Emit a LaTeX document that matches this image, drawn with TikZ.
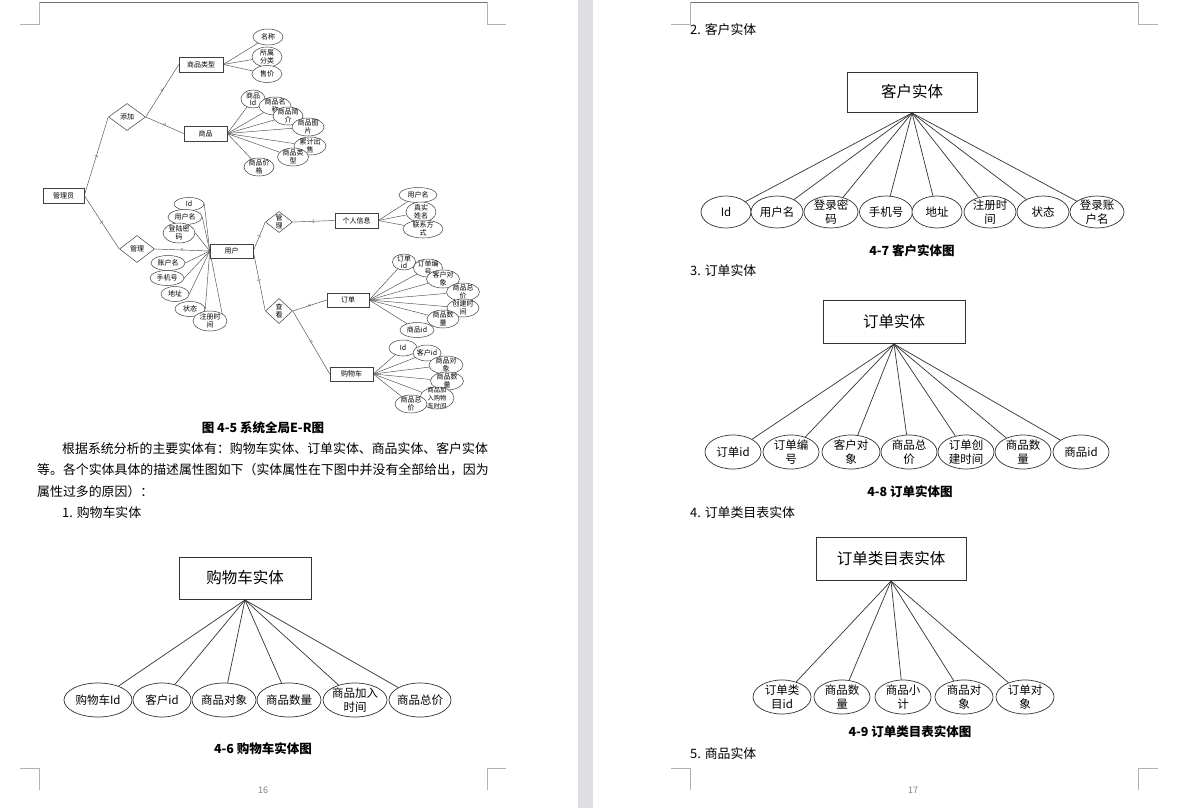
\documentclass[tikz,border=0pt]{standalone}
\usepackage{fontspec}
\setmainfont{Noto Sans CJK SC}
\usetikzlibrary{shapes.geometric}
\definecolor{gapgray}{RGB}{222,223,226}
\newcommand{\erfont}{\fontsize{7}{7.6}\selectfont}
\newcommand{\ersmall}{\fontsize{6.3}{6.7}\selectfont}
\newcommand{\cardfont}{\fontsize{5}{5}\selectfont}
\newcommand{\entfont}{\fontsize{15.5}{17}\selectfont}
\newcommand{\attrfont}{\fontsize{11.5}{13.5}\selectfont}
\newcommand{\bodyfont}{\fontsize{12.9}{15}\selectfont}
\newcommand{\capfont}{\fontsize{12.5}{14}\selectfont\bfseries}
\newcommand{\pnfont}{\fontsize{9}{10}\selectfont}
% ellipse / diamond outline with its text set on top
\newcommand{\erattr}[5]{%
  \node[attr,minimum width=#3,minimum height=#4] (#1) at (#2) {};
  \node[attrtext] (#1-t) at (#1) {#5};}
\newcommand{\errel}[5]{%
  \node[rel,minimum width=#3,minimum height=#4] (#1) at (#2) {};
  \node[reltext] (#1-t) at (#1) {#5};}
\pgfdeclarelayer{paper}
\pgfdeclarelayer{bg}
\pgfsetlayers{paper,bg,main}

\begin{document}
\begin{tikzpicture}[x=1pt,y=-1pt,
    ent/.style={rectangle,draw=black!75,fill=white,line width=0.5pt,inner sep=0pt,font=\erfont},
    attr/.style={ellipse,draw=black!75,fill=white,line width=0.5pt,inner sep=0pt},
    attrtext/.style={font=\erfont,align=center,inner sep=0pt},
    rel/.style={diamond,draw=black!75,fill=white,line width=0.5pt,inner sep=0pt},
    reltext/.style={font=\erfont,align=center,inner sep=0pt},
    link/.style={draw=black!70,line width=0.45pt},
    card/.style={sloped,midway,font=\cardfont,text=black!60,inner sep=0.5pt},
    bigent/.style={rectangle,draw=black!80,fill=white,line width=0.8pt,inner sep=0pt,font=\entfont},
    biglink/.style={draw=black!80,line width=0.7pt},
    body/.style={anchor=west,font=\bodyfont,inner sep=0pt},
    caption/.style={font=\capfont,inner sep=0pt},
    cropline/.style={draw=black!30,line width=0.7pt},
    pagenum/.style={font=\pnfont,text=black!50,inner sep=0pt}
  ]
  \useasboundingbox (0,0) rectangle (1183,808);
  \begin{pgfonlayer}{paper}
    \fill[white] (0,0) rectangle (1183,808);
    \fill[gapgray] (578,0) rectangle (593,808);
  \end{pgfonlayer}

  % page corners
  \draw[black!55,line width=0.7pt] (39,2) -- (487,2);
  \draw[black!55,line width=0.7pt] (690,2) -- (1138,2);
  \draw[cropline] (20,24) -- (39,24) -- (39,2);
  \draw[cropline] (506,24) -- (487,24) -- (487,2);
  \draw[cropline] (20,768) -- (39,768) -- (39,790);
  \draw[cropline] (506,768) -- (487,768) -- (487,790);
  \draw[cropline] (671,24) -- (690,24) -- (690,2);
  \draw[cropline] (1158,24) -- (1138,24) -- (1138,2);
  \draw[cropline] (671,768) -- (690,768) -- (690,790);
  \draw[cropline] (1158,768) -- (1138,768) -- (1138,790);
  \node[pagenum] (pn16) at (263,790) {16};
  \node[pagenum] (pn17) at (913,790) {17};

  % ---- global E-R diagram ----
  \node[ent,minimum width=44,minimum height=15] (ptype) at (201,64.5) {商品类型};
  \node[ent,minimum width=43,minimum height=15] (prod) at (205.5,133.5) {商品};
  \node[ent,minimum width=41,minimum height=15] (admin) at (63.5,195.5) {管理员};
  \node[ent,minimum width=43,minimum height=14] (user) at (231.5,251) {用户};
  \node[ent,minimum width=43,minimum height=15] (info) at (356.5,220.5) {个人信息};
  \node[ent,minimum width=42,minimum height=14] (order) at (348,300) {订单};
  \node[ent,minimum width=43,minimum height=14] (cart) at (351.5,374) {购物车};

  \errel{add}{127,117}{37}{27}{添加}
  \errel{manage}{137,249}{35}{27}{管理}
  \errel{manage2}{279,222}{27}{21}{管\\理}
  \errel{view}{279,311}{27}{25}{查\\看}

  \erattr{a1}{268,37}{30}{16}{名称}
  \erattr{a2}{267,57}{30}{20}{所属\\分类}
  \erattr{a3}{267,74}{30}{17}{售价}

  \erattr{p1}{253,99}{24}{18}{商品\\Id}
  \erattr{p2}{275,106}{32}{18}{商品名\\称}
  \erattr{p3}{288,116}{30}{18}{商品简\\介}
  \erattr{p4}{308,127}{32}{18}{商品图\\片}
  \erattr{p5}{310,146}{32}{18}{累计出\\售}
  \erattr{p6}{293,157}{31}{18}{商品类\\型}
  \erattr{p7}{259,167}{30}{18}{商品价\\格}

  \erattr{u1}{189,204}{30}{13}{Id}
  \erattr{u2}{185,217}{34}{15}{用户名}
  \erattr{u3}{179,233}{32}{20}{登陆密\\码}
  \erattr{u4}{168,263}{34}{15}{账户名}
  \erattr{u5}{167,278}{34}{15}{手机号}
  \erattr{u6}{175,294}{28}{15}{地址}
  \erattr{u7}{190,309}{30}{15}{状态}
  \erattr{u8}{210,321}{34}{20}{注册时\\间}

  \erattr{i1}{418,195}{38}{15}{用户名}
  \erattr{i2}{421,212}{30}{20}{真实\\姓名}
  \erattr{i3}{423,229}{40}{18}{联系方\\式}

  \erattr{o1}{404,262}{23}{16}{订单\\id}
  \erattr{o2}{428,268}{29}{18}{订单编\\号}
  \erattr{o3}{443,279}{33}{18}{客户对\\象}
  \erattr{o4}{463,292}{33}{18}{商品总\\价}
  \erattr{o5}{463,308}{32}{18}{创建时\\间}
  \erattr{o6}{443,319}{32}{18}{商品数\\量}
  \erattr{o7}{417,330}{34}{15}{商品id}

  \erattr{c1}{403,348}{28}{16}{Id}
  \erattr{c2}{427,353}{28}{16}{客户id}
  \erattr{c3}{446,365}{34}{18}{商品对\\象}
  \erattr{c4}{447,381}{33}{18}{商品数\\量}
  \erattr{c5}{437,398}{34}{22}{\ersmall 商品加\\\ersmall 入购物\\\ersmall 车时间}
  \erattr{c6}{411,404}{32}{18}{商品总\\价}

  \begin{pgfonlayer}{bg}
    \draw[link] (add.west) -- node[card] {1} (admin.east);
    \draw[link] (add.east) -- node[card] {n} (ptype.west);
    \draw[link] (add.east) -- node[card] {n} (prod.west);
    \draw[link] (admin.east) -- node[card] {1} (manage.west);
    \draw[link] (manage.east) -- node[card] {n} (user.west);
    \draw[link] (user.east) -- node[card] {1} (manage2.west);
    \draw[link] (manage2.east) -- node[card] {1} (info.west);
    \draw[link] (user.east) -- node[card] {1} (view.west);
    \draw[link] (view.east) -- node[card] {n} (order.west);
    \draw[link] (view.east) -- node[card] {n} (cart.west);
    \foreach \a in {a1,a2,a3} \draw[link] (ptype.east) -- (\a);
    \foreach \a in {p1,p2,p3,p4,p5,p6,p7} \draw[link] (prod.east) -- (\a);
    \foreach \a in {u1,u2,u3,u4,u5,u6,u7} \draw[link] (\a.east) -- (user.west);
    \draw[link] (u8.north east) -- (user.west);
    \foreach \a in {i1,i2,i3} \draw[link] (info.east) -- (\a);
    \foreach \a in {o1,o2,o3,o4,o5,o6,o7} \draw[link] (order.east) -- (\a);
    \foreach \a in {c1,c2,c3,c4,c5,c6} \draw[link] (cart.east) -- (\a);
  \end{pgfonlayer}

  % ---- left page text ----
  \node[caption] (cap45) at (263,428) {图 4-5 系统全局E-R图};
  \node[body] (line1) at (62,449) {根据系统分析的主要实体有：购物车实体、订单实体、商品实体、客户实体};
  \node[body] (line2) at (37,470) {等。各个实体具体的描述属性图如下（实体属性在下图中并没有全部给出，因为};
  \node[body] (line3) at (37,492) {属性过多的原因）：};
  \node[body] (sec1) at (62,513) {1. 购物车实体};

  \begin{scope}[attr/.append style={draw=black!80,line width=0.7pt},
      attrtext/.append style={font=\attrfont}]
    % cart entity
    \node[bigent,minimum width=132,minimum height=42] (cartE) at (245,578) {购物车实体};
    \coordinate (cartJ) at (245,600);
    \erattr{ce1}{98,700}{68}{34}{购物车Id}
    \erattr{ce2}{162,700}{58}{34}{客户id}
    \erattr{ce3}{224,700}{64}{34}{商品对象}
    \erattr{ce4}{289,700}{64}{34}{商品数量}
    \erattr{ce5}{355,700}{64}{34}{商品加入\\时间}
    \erattr{ce6}{420,700}{62}{34}{商品总价}
    \foreach \a in {ce1,ce2,ce3,ce4,ce5,ce6} \draw[biglink] (cartJ) -- (\a);
    \node[caption] (cap46) at (263,749) {4-6 购物车实体图};

    % customer entity
    \node[body] (sec2) at (690,30) {2. 客户实体};
    \node[bigent,minimum width=130,minimum height=40] (custE) at (912,92) {客户实体};
    \coordinate (custJ) at (912,113);
    \erattr{ke1}{726,212}{50}{32}{Id}
    \erattr{ke2}{777,212}{52}{32}{用户名}
    \erattr{ke3}{831,212}{54}{32}{登录密\\码}
    \erattr{ke4}{886,212}{53}{32}{手机号}
    \erattr{ke5}{937,212}{50}{32}{地址}
    \erattr{ke6}{990,212}{52}{32}{注册时\\间}
    \erattr{ke7}{1043,212}{52}{32}{状态}
    \erattr{ke8}{1097,212}{54}{32}{登录账\\户名}
    \foreach \a in {ke1,ke2,ke3,ke4,ke5,ke6,ke7,ke8} \draw[biglink] (custJ) -- (\a);
    \node[caption] (cap47) at (912,251) {4-7 客户实体图};

    % order entity
    \node[body] (sec3) at (690,271) {3. 订单实体};
    \node[bigent,minimum width=142,minimum height=43] (ordE) at (894,321.5) {订单实体};
    \coordinate (ordJ) at (894,344);
    \erattr{oe1}{733,452}{56}{34}{订单id}
    \erattr{oe2}{791,452}{56}{34}{订单编\\号}
    \erattr{oe3}{851,452}{58}{34}{客户对\\象}
    \erattr{oe4}{909,452}{56}{34}{商品总\\价}
    \erattr{oe5}{966,452}{56}{34}{订单创\\建时间}
    \erattr{oe6}{1023,452}{56}{34}{商品数\\量}
    \erattr{oe7}{1081,452}{56}{34}{商品id}
    \foreach \a in {oe1,oe2,oe3,oe4,oe5,oe6,oe7} \draw[biglink] (ordJ) -- (\a);
    \node[caption] (cap48) at (910,492) {4-8 订单实体图};

    % order item entity
    \node[body] (sec4) at (690,513) {4. 订单类目表实体};
    \node[bigent,minimum width=150,minimum height=43] (catE) at (891,558.5) {订单类目表实体};
    \coordinate (catJ) at (891,581);
    \erattr{te1}{782,697}{58}{34}{订单类\\目id}
    \erattr{te2}{842,697}{56}{34}{商品数\\量}
    \erattr{te3}{903,697}{56}{34}{商品小\\计}
    \erattr{te4}{964,697}{58}{34}{商品对\\象}
    \erattr{te5}{1025,697}{58}{34}{订单对\\象}
    \foreach \a in {te1,te2,te3,te4,te5} \draw[biglink] (catJ) -- (\a);
    \node[caption] (cap49) at (910,732) {4-9 订单类目表实体图};
    \node[body] (sec5) at (690,754) {5. 商品实体};
  \end{scope}
\end{tikzpicture}
\end{document}
